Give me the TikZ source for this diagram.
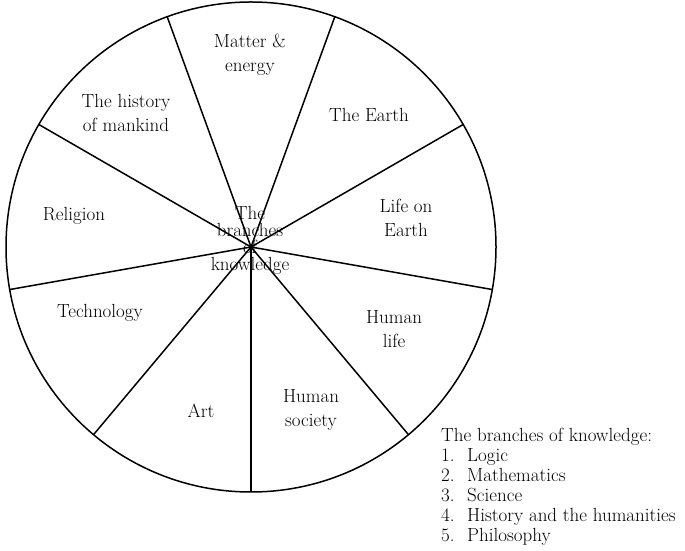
\documentclass[tikz,border=0pt]{standalone}
\usepackage{fontspec}

\begin{document}
\begin{tikzpicture}[x=1pt, y=1pt,
        spoke/.style={line width=1.5pt},
        branch/.style={align=center, inner sep=0pt, font=\fontsize{19}{24}\selectfont}]
        %\draw [help lines, step=50] (0,0) grid (685,551);
        \useasboundingbox (0,0) rectangle (685,551);

        %the wheel
        \coordinate (hub) at (251,304);
        \draw [line width=1.5pt] (hub) circle [radius=245];
        \draw [spoke] (hub) -- ++(110:245);
        \draw [spoke] (hub) -- ++(70:245);
        \draw [spoke] (hub) -- ++(30:245);
        \draw [spoke] (hub) -- ++(-10:245);
        \draw [spoke] (hub) -- ++(-50:245);
        \draw [spoke] (hub) -- ++(-90:245);
        \draw [spoke] (hub) -- ++(-130:245);
        \draw [spoke] (hub) -- ++(-170:245);
        \draw [spoke] (hub) -- ++(150:245);

        %the sectors
        \node [branch] (matter) at (250,496) {Matter \&\\energy};
        \node [branch] (earth) at (369,436) {The Earth};
        \node [branch] (life) at (406,333) {Life on\\Earth};
        \node [branch] (humanlife) at (394,222) {Human\\life};
        \node [branch] (society) at (311,141) {Human\\society};
        \node [branch] (art) at (201,140) {Art};
        \node [branch] (technology) at (100,238) {Technology};
        \node [branch] (religion) at (74,335) {Religion};
        \node [branch] (history) at (126,438) {The history\\of mankind};
        \node [branch, font=\fontsize{19}{17}\selectfont] (centre) at (250,311) {The\\branches\\of\\knowledge};

        %the list
        \node [anchor=north west, align=left, inner sep=0pt, font=\fontsize{19}{20}\selectfont] (legend) at (441,123)
          {The branches of knowledge:\\
           \makebox[26pt][l]{1.}Logic\\
           \makebox[26pt][l]{2.}Mathematics\\
           \makebox[26pt][l]{3.}Science\\
           \makebox[26pt][l]{4.}History and the humanities\\
           \makebox[26pt][l]{5.}Philosophy};

\end{tikzpicture}
\end{document}
